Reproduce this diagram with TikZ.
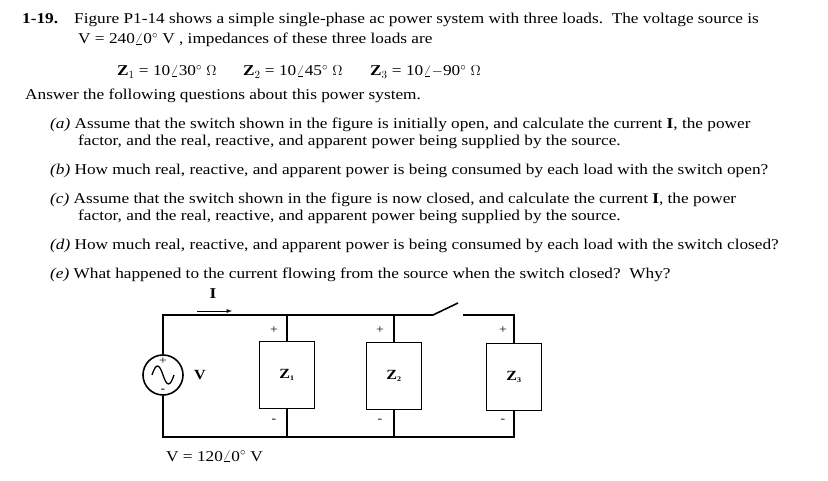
\documentclass[tikz,border=0pt]{standalone}
\usepackage{fontspec}
\setmainfont{Liberation Serif}[FakeStretch=1.15]
\begin{document}
\begin{tikzpicture}[x=1pt,y=-1pt,
  txt/.style={anchor=base west,inner sep=0,font=\fontsize{15}{18}\selectfont},
  sm/.style={inner sep=0,font=\fontsize{12}{14}\selectfont},
  wire/.style={line width=1.6pt},
  load/.style={draw,line width=1.6pt,minimum width=55pt,minimum height=67pt,inner sep=0,font=\fontsize{14}{16}\selectfont\bfseries}]
\useasboundingbox (0,0) rectangle (828,481);
\node[txt] (h1) at (22,24) {\textbf{1-19.}};
\node[txt] (l1) at (74,24) {Figure P1-14 shows a simple single-phase ac power system with three loads.\ \ The voltage source is};
\node[txt] (l2) at (78,44) {V = 240$\angle$0$^\circ$ V , impedances of these three loads are};
\node[txt] (z1) at (117,76) {\textbf{Z}$_1$ = 10$\angle$30$^\circ$ $\Omega$};
\node[txt] (z2) at (243,76) {\textbf{Z}$_2$ = 10$\angle$45$^\circ$ $\Omega$};
\node[txt] (z3) at (370,76) {\textbf{Z}$_3$ = 10$\angle-$90$^\circ$ $\Omega$};
\node[txt] (an) at (25,100) {Answer the following questions about this power system.};
\node[txt] (qa) at (50,129) {\textit{(a)} Assume that the switch shown in the figure is initially open, and calculate the current \textbf{I}, the power};
\node[txt] (qa2) at (78,146) {factor, and the real, reactive, and apparent power being supplied by the source.};
\node[txt] (qb) at (50,175) {\textit{(b)} How much real, reactive, and apparent power is being consumed by each load with the switch open?};
\node[txt] (qc) at (50,204) {\textit{(c)} Assume that the switch shown in the figure is now closed, and calculate the current \textbf{I}, the power};
\node[txt] (qc2) at (78,221) {factor, and the real, reactive, and apparent power being supplied by the source.};
\node[txt] (qd) at (50,250) {\textit{(d)} How much real, reactive, and apparent power is being consumed by each load with the switch closed?};
\node[txt] (qe) at (50,279) {\textit{(e)} What happened to the current flowing from the source when the switch closed?\ \ Why?};
% circuit
\node[draw,circle,line width=1.6pt,minimum size=40pt,inner sep=0] (src) at (163,375) {};
\draw[line width=1.3pt] ([xshift=-11pt]src.center) .. controls +(4,-12) and +(-4,-12) .. (src.center) .. controls +(4,12) and +(-4,12) .. ([xshift=11pt]src.center);
\node[sm] (sp) at (163,361) {+};
\node[sm] (sm) at (163,391) {-};
\node[load] (L1) at (287,375) {Z\textsubscript{\fontsize{7}{7}\selectfont 1}};
\node[load] (L2) at (394,376) {Z\textsubscript{\fontsize{7}{7}\selectfont 2}};
\node[load] (L3) at (514,377) {Z\textsubscript{\fontsize{7}{7}\selectfont 3}};
\coordinate (tl) at (163,315); \coordinate (bl) at (163,437);
\coordinate (sw1) at (433,315); \coordinate (sw2) at (458,303); \coordinate (sw3) at (463,315);
\draw[wire] (src.north) -- (tl) -- (sw1) -- (sw2);
\draw[wire] (sw3) -- (514,315) -- (L3.north);
\draw[wire] (src.south) -- (bl) -- (514,437) -- (L3.south);
\draw[wire] (287,315) -- (L1.north); \draw[wire] (L1.south) -- (287,437);
\draw[wire] (394,315) -- (L2.north); \draw[wire] (L2.south) -- (394,437);
\foreach \x/\n in {274/a,380/b,503/c}{\node[sm] (p\n) at (\x,330) {+}; \node[sm] (m\n) at (\x,421) {-};}
\node[sm,font=\fontsize{14}{16}\selectfont\bfseries] (vl) at (200,375) {V};
\coordinate (ia) at (197,311); \coordinate (ib) at (232,311);
\draw[-latex,line width=0.9pt] (ia) -- (ib);
\node[sm,font=\fontsize{15}{16}\selectfont\bfseries] (il) at (213,294) {I};
\node[txt] (vv) at (166,461) {V = 120$\angle$0$^\circ$ V};
\end{tikzpicture}
\end{document}
